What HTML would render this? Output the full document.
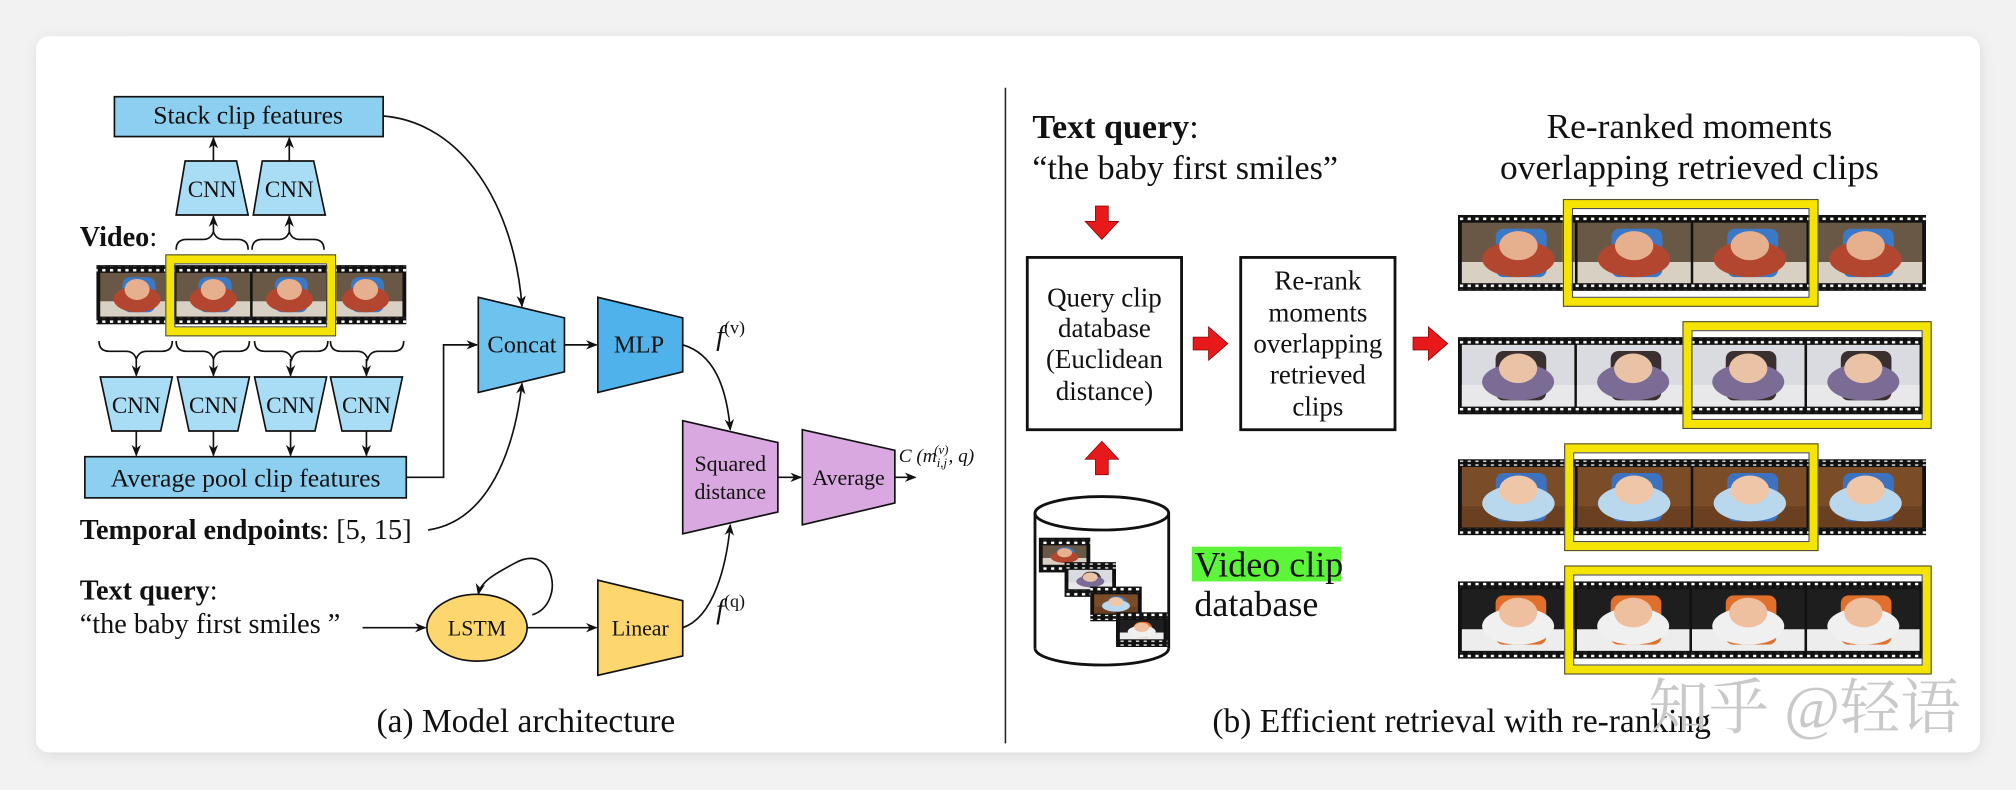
<!DOCTYPE html>
<html><head><meta charset="utf-8"><style>
html,body{margin:0;padding:0;background:#f2f2f2;}
svg{display:block;}
text{font-family:"Liberation Serif","Noto Serif CJK SC",serif;fill:#111;}
</style></head><body>
<svg id="s" width="2016" height="790" viewBox="0 0 1568 614" xmlns="http://www.w3.org/2000/svg">
<defs>
<filter id="sh" x="-5%" y="-5%" width="110%" height="110%"><feGaussianBlur stdDeviation="6"/></filter>
<marker id="ah" viewBox="0 0 10 10" refX="9" refY="5" markerWidth="7" markerHeight="7" orient="auto-start-reverse"><path d="M0,1 L10,5 L0,9 L3,5 z" fill="#111"/></marker>
<pattern id="spr" patternUnits="userSpaceOnUse" width="6" height="4"><rect x="1.5" y="1" width="2.5" height="2" fill="#fff"/></pattern>
</defs>
<rect x="0" y="0" width="1568" height="614" fill="#f2f2f2"/>
<rect x="30" y="31" width="1510" height="556" rx="10" fill="#d8d8d8" filter="url(#sh)"/>
<rect x="28" y="28" width="1512" height="557" rx="10" fill="#fff"/>
<line x1="782" y1="68" x2="782" y2="578" stroke="#222" stroke-width="1.2"/>

<g id="left" stroke="#111" stroke-width="1.3">
<rect x="89" y="75" width="209" height="31" fill="#8ccff0"/>
<rect x="66" y="355" width="250" height="32" fill="#8ccff0"/>
<polygon points="144,125 184,125 193,167 137,167" fill="#a9dcf5"/>
<polygon points="204,125 244,125 253,167 197,167" fill="#a9dcf5"/>
<polygon points="78,293 134,293 125,335 87,335" fill="#a9dcf5"/>
<polygon points="138,293 194,293 185,335 147,335" fill="#a9dcf5"/>
<polygon points="198,293 254,293 245,335 207,335" fill="#a9dcf5"/>
<polygon points="257,293 313,293 304,335 266,335" fill="#a9dcf5"/>
<polygon points="372,231 439,247 439,289 372,305" fill="#6ec2ee"/>
<polygon points="465,231 531,247 531,289 465,305" fill="#4fb2ea"/>
<polygon points="531,327 605,344 605,398 531,415" fill="#d9a8e0"/>
<polygon points="624,334 696,350 696,391 624,408" fill="#d9a8e0"/>
<polygon points="465,451 531,467 531,510 465,525" fill="#fdd66e"/>
<ellipse cx="371" cy="488" rx="39" ry="26" fill="#fdd66e"/>
</g>
<g fill="none" stroke="#111" stroke-width="1.3">
<path d="M137,194 q0,-8 8,-8 h13 q6,0 8,-6 q2,6 8,6 h11 q8,0 8,8"/>
<path d="M196,194 q0,-8 8,-8 h13 q6,0 8,-6 q2,6 8,6 h11 q8,0 8,8"/>
<path d="M77,265 q0,8 8,8 h13 q6,0 8,6 q2,-6 8,-6 h12 q8,0 8,-8"/>
<path d="M137,265 q0,8 8,8 h13 q6,0 8,6 q2,-6 8,-6 h12 q8,0 8,-8"/>
<path d="M198,265 q0,8 8,8 h13 q6,0 8,6 q2,-6 8,-6 h12 q8,0 8,-8"/>
<path d="M257,265 q0,8 8,8 h13 q6,0 8,6 q2,-6 8,-6 h12 q8,0 8,-8"/>
<g marker-end="url(#ah)">
<line x1="166" y1="125" x2="166" y2="107"/><line x1="225" y1="125" x2="225" y2="107"/>
<line x1="166" y1="180" x2="166" y2="168"/><line x1="225" y1="180" x2="225" y2="168"/>
<line x1="106" y1="279" x2="106" y2="292"/><line x1="166" y1="279" x2="166" y2="292"/>
<line x1="226" y1="279" x2="226" y2="292"/><line x1="285" y1="279" x2="285" y2="292"/>
<line x1="106" y1="335" x2="106" y2="354"/><line x1="166" y1="335" x2="166" y2="354"/>
<line x1="226" y1="335" x2="226" y2="354"/><line x1="285" y1="335" x2="285" y2="354"/>
<path d="M298,90 C360,95 400,160 406,238"/>
<path d="M333,412 C380,405 400,350 406,298"/>
<path d="M316,371 H345 V268 H371"/>
<line x1="439" y1="268" x2="464" y2="268"/>
<path d="M531,268 C555,275 565,300 568,334"/>
<path d="M531,488 C555,480 565,440 568,408"/>
<line x1="605" y1="371" x2="623" y2="371"/>
<line x1="696" y1="371" x2="712" y2="371"/>
<line x1="282" y1="488" x2="331" y2="488"/>
<line x1="410" y1="488" x2="464" y2="488"/>
<path d="M414,478 C440,470 432,420 400,438 C385,446 374,452 372,462"/>
</g>
</g>
<g font-size="20" text-anchor="middle">
<text x="193" y="96">Stack clip features</text>
<text x="191" y="378">Average pool clip features</text>
<text x="165" y="153" font-size="18">CNN</text><text x="225" y="153" font-size="18">CNN</text>
<text x="106" y="321" font-size="18">CNN</text><text x="166" y="321" font-size="18">CNN</text>
<text x="226" y="321" font-size="18">CNN</text><text x="285" y="321" font-size="18">CNN</text>
<text x="406" y="274" font-size="19">Concat</text>
<text x="497" y="274" font-size="19">MLP</text>
<text x="568" y="366" font-size="17">Squared</text>
<text x="568" y="388" font-size="17">distance</text>
<text x="660" y="377" font-size="17">Average</text>
<text x="371" y="494" font-size="17">LSTM</text>
<text x="498" y="494" font-size="17">Linear</text>
</g>
<g font-size="22">
<text x="62" y="191"><tspan font-weight="bold">Video</tspan>:</text>
<text x="62" y="419"><tspan font-weight="bold">Temporal endpoints</tspan>: [5, 15]</text>
<text x="62" y="466"><tspan font-weight="bold">Text query</tspan>:</text>
<text x="62" y="492">“the baby first smiles ”</text>
<text x="557" y="268" font-style="italic" font-size="22">f<tspan dy="-9" font-size="14" font-style="normal">(v)</tspan></text>
<text x="557" y="481" font-style="italic" font-size="22">f<tspan dy="-9" font-size="14" font-style="normal">(q)</tspan></text>
<text x="699" y="359" font-size="15" font-style="italic">C (m<tspan font-size="10" dy="4">i,j</tspan><tspan font-size="10" dx="-10" dy="-10">(v)</tspan><tspan dy="6" font-size="15">, q)</tspan></text>
<text x="409" y="569" font-size="26" text-anchor="middle">(a) Model architecture</text>
</g>

<g font-size="26.5">
<text x="803" y="107"><tspan font-weight="bold">Text query</tspan>:</text>
<text x="803" y="139">“the baby first smiles”</text>
<text x="1314" y="107" text-anchor="middle" font-size="27.5">Re-ranked moments</text>
<text x="1314" y="139" text-anchor="middle" font-size="27.5">overlapping retrieved clips</text>
</g>
<rect x="799" y="200" width="120" height="134" fill="none" stroke="#111" stroke-width="2.2"/>
<rect x="965" y="200" width="120" height="134" fill="none" stroke="#111" stroke-width="2.2"/>
<g font-size="21" text-anchor="middle">
<text x="859" y="238">Query clip</text><text x="859" y="262">database</text>
<text x="859" y="286">(Euclidean</text><text x="859" y="311">distance)</text>
<text x="1025" y="225">Re-rank</text><text x="1025" y="250">moments</text>
<text x="1025" y="274">overlapping</text><text x="1025" y="298">retrieved</text><text x="1025" y="323">clips</text>
</g>
<g fill="#e8191b" stroke="#8a0000" stroke-width="0.6">
<polygon points="852,160 862,160 862,172 870,172 857,186 844,172 852,172"/>
<polygon points="852,369 862,369 862,357 870,357 857,343 844,357 852,357"/>
<polygon points="928,262 940,262 940,254 955,267 940,280 940,272 928,272"/>
<polygon points="1099,262 1111,262 1111,254 1126,267 1111,280 1111,272 1099,272"/>
</g>
<g fill="none" stroke="#111" stroke-width="2.2">
<ellipse cx="857" cy="399" rx="52" ry="13" fill="#fff"/>
<line x1="805" y1="399" x2="805" y2="504"/><line x1="909" y1="399" x2="909" y2="504"/>
<path d="M805,504 A52,13 0 0 0 909,504"/>
</g>
<rect x="927" y="425" width="116" height="27" fill="#5df53a"/>
<g font-size="28">
<text x="929" y="448">Video clip</text>
<text x="929" y="479">database</text>
</g>
<text x="943" y="569" font-size="26">(b) Efficient retrieval with re-ranking</text>
<g id="films"></g>
<text x="1282" y="566" font-size="47" font-family="'Noto Sans CJK SC',sans-serif" style="fill:#c9c9c9">知乎 @轻语</text>
</svg>
<script>
var NS="http://www.w3.org/2000/svg",G=document.getElementById('films');
function el(t,a,p){var e=document.createElementNS(NS,t);for(var k in a)e.setAttribute(k,a[k]);(p||G).appendChild(e);return e;}
var pal={
 a:{bg:"#6a5846",seat:"#3a78c8",face:"#e6b08e",shirt:"#b2462e",floor:"#d9d0c4"},
 b:{bg:"#d9dbe0",seat:"#3a3030",face:"#eac2a6",shirt:"#7b6c95",floor:"#e8e8ea"},
 c:{bg:"#7a4c28",seat:"#3d72c0",face:"#efc6a8",shirt:"#b9d8ee",floor:"#6a4020"},
 d:{bg:"#1e1e1e",seat:"#e0702c",face:"#efc0a0",shirt:"#f0f0f0",floor:"#ededed"}};
function film(x,y,w,h,n,p){
 el('rect',{x:x,y:y,width:w,height:h,fill:"#111"});
 el('rect',{x:x,y:y+1,width:w,height:4,fill:"url(#spr)"});
 el('rect',{x:x,y:y+h-5,width:w,height:4,fill:"url(#spr)"});
 var fw=(w-4)/n;
 for(var i=0;i<n;i++){var fx=x+2+i*fw+1,fy=y+6,fh=h-12,ww=fw-2;
  el('rect',{x:fx,y:fy,width:ww,height:fh,fill:p.bg});
  el('rect',{x:fx,y:fy+fh*0.65,width:ww,height:fh*0.35,fill:p.floor});
  el('rect',{x:fx+ww*0.3,y:fy+fh*0.1,width:ww*0.45,height:fh*0.8,rx:6,fill:p.seat});
  el('ellipse',{cx:fx+ww*0.5,cy:fy+fh*0.6,rx:ww*0.32,ry:fh*0.3,fill:p.shirt});
  el('ellipse',{cx:fx+ww*0.5,cy:fy+fh*0.38,rx:ww*0.17,ry:fh*0.24,fill:p.face});
 }}
function ybox(x,y,w,h){el('rect',{x:x+3,y:y+3,width:w-6,height:h-6,fill:"none",stroke:"#f5e400","stroke-width":7});
 el('rect',{x:x,y:y,width:w,height:h,fill:"none",stroke:"#444","stroke-width":0.8});
 el('rect',{x:x+7,y:y+7,width:w-14,height:h-14,fill:"none",stroke:"#444","stroke-width":0.8});}
film(75,206,241,46,4,pal.a); ybox(129,198,132,63);
film(1134,167,364,59,4,pal.a); ybox(1216,155,198,83);
film(1134,262,362,60,4,pal.b); ybox(1309,250,193,83);
film(1134,357,364,59,4,pal.c); ybox(1217,345,197,83);
film(1134,452,362,60,4,pal.d); ybox(1217,440,285,84);
film(808,418,40,27,1,pal.a); film(828,437,40,27,1,pal.b);
film(848,456,40,27,1,pal.c); film(868,476,40,27,1,pal.d);
</script>
</body></html>
